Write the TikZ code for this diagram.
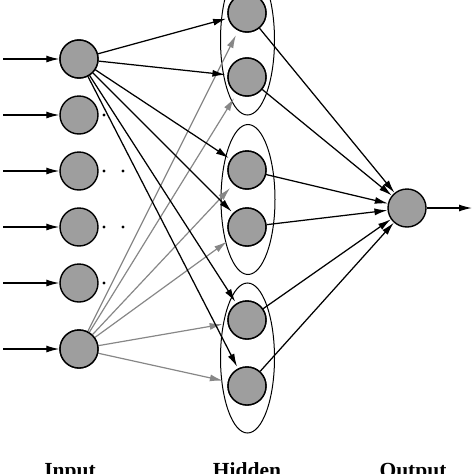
\documentclass[tikz,border=0pt]{standalone}
\usepackage{fontspec}
\setmainfont{Liberation Serif}
\usetikzlibrary{arrows.meta,shapes.geometric}
\definecolor{nodefill}{RGB}{158,158,158}
\definecolor{grayline}{RGB}{135,135,135}
\begin{document}
\begin{tikzpicture}[x=1pt,y=-1pt,
  neuron/.style={circle,draw=black,line width=1.4pt,fill=nodefill,minimum size=38pt,inner sep=0pt},
  layer/.style={ellipse,draw=black,line width=1pt,minimum width=54pt,minimum height=150pt,inner sep=0pt},
  blk/.style={draw=black,line width=1.25pt,-{Latex[length=13pt,width=7pt]},shorten >=2pt},
  gry/.style={draw=grayline,line width=1.2pt,-{Latex[length=13pt,width=7pt]},shorten >=5pt},
  lbl/.style={font=\bfseries\fontsize{21.5}{24}\selectfont,anchor=base},
  dotmark/.style={circle,fill=black,inner sep=0pt,minimum size=3.4pt}]
\useasboundingbox (0,0) rectangle (474,474);
% layer ellipses
\node[layer] (e1) at (247.5,40) {};
\node[layer] (e2) at (248,199.5) {};
\node[layer] (e3) at (247.5,358) {};
% input neurons
\node[neuron] (i1) at (79,59) {};
\node[neuron] (i2) at (79,115) {};
\node[neuron] (i3) at (79,171) {};
\node[neuron] (i4) at (79,227) {};
\node[neuron] (i5) at (79,283) {};
\node[neuron] (i6) at (79,349) {};
% hidden neurons
\node[neuron] (h1) at (247,13) {};
\node[neuron] (h2) at (247,77) {};
\node[neuron] (h3) at (247,170) {};
\node[neuron] (h4) at (247,227) {};
\node[neuron] (h5) at (247,320) {};
\node[neuron] (h6) at (247,386) {};
% output neuron
\node[neuron] (o) at (407,208) {};
% input arrow start points
\coordinate (s1) at (3,59);
\coordinate (s2) at (3,115);
\coordinate (s3) at (3,171);
\coordinate (s4) at (3,227);
\coordinate (s5) at (3,283);
\coordinate (s6) at (3,349);
\coordinate (oe) at (472,208);
\foreach \k in {1,...,6}{
  \draw[blk,shorten >=0pt] (s\k) -- (i\k);
}
% gray connections from last input
\foreach \k in {1,...,6}{
  \draw[gry] (i6) -- (h\k);
}
% black connections from first input
\foreach \k in {1,...,6}{
  \draw[blk] (i1) -- (h\k);
}
% hidden to output
\foreach \k in {1,...,6}{
  \draw[blk,shorten >=0pt] (h\k) -- (o);
}
\draw[blk,shorten >=0pt] (o) -- (oe);
% redraw neurons on top
\foreach \n/\x/\y in {i1/79/59,i6/79/349,h1/247/13,h2/247/77,h3/247/170,h4/247/227,h5/247/320,h6/247/386}{
  \node[neuron] at (\x,\y) {};
}
% dots
\node[dotmark] (d1) at (104,115) {};
\node[dotmark] (d2) at (104,171) {};
\node[dotmark] (d3) at (123,171) {};
\node[dotmark] (d4) at (104,227) {};
\node[dotmark] (d5) at (123,227) {};
\node[dotmark] (d6) at (104,283) {};
% labels
\node[lbl] (l1) at (70,477) {Input};
\node[lbl] (l2) at (247,477) {Hidden};
\node[lbl] (l3) at (413,477) {Output};
\end{tikzpicture}
\end{document}
